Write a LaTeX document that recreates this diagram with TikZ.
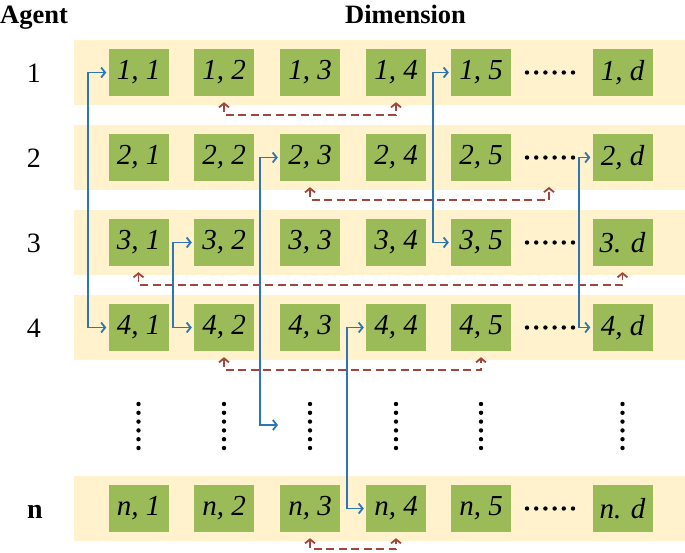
\documentclass[tikz,border=0pt]{standalone}
\usepackage{fontspec}
\setmainfont{Liberation Serif}
\usetikzlibrary{arrows.meta}
\definecolor{band}{HTML}{FFF2CC}
\definecolor{cell}{HTML}{9BBB59}
\definecolor{flow}{HTML}{2E75B6}
\definecolor{swap}{HTML}{A0463C}
\begin{document}
\begin{tikzpicture}[x=1pt,y=-1pt,
  cellbox/.style={fill=cell,minimum width=60pt,minimum height=47pt,inner sep=0pt,
    font=\fontsize{29}{32}\selectfont\itshape},
  rowlab/.style={anchor=base,inner sep=0pt,font=\fontsize{28}{30}\selectfont},
  headlab/.style={anchor=base west,inner sep=0pt,font=\fontsize{26.5}{30}\selectfont\bfseries},
  flowarr/.style={draw=flow,line width=1.8pt,{Straight Barb[length=4pt,width=10pt]}-{Straight Barb[length=4pt,width=10pt]},shorten <=2pt,shorten >=2pt},
  swaparr/.style={draw=swap,line width=1.8pt,dash pattern=on 8pt off 4.5pt,{Straight Barb[length=4pt,width=10pt]}-{Straight Barb[length=4pt,width=10pt]}},
  dotmark/.style={fill=black}]
\useasboundingbox (0,0) rectangle (685,552);
% bands
\foreach \c in {72.5,157.5,242.5,327.5,508.5}
  \fill[band] (74,\c-32.5) rectangle (685,\c+32.5);
% headers
\node[headlab] (agent) at (0,23) {Agent};
\node[headlab] (dim) at (345,23) {Dimension};
% row labels
\node[rowlab] (r1) at (34,82) {1};
\node[rowlab] (r2) at (34,167) {2};
\node[rowlab] (r3) at (34,252) {3};
\node[rowlab] (r4) at (34,337) {4};
\node[rowlab,font=\fontsize{28}{30}\selectfont\bfseries] (rn) at (35,518) {n};
% cells row 1
\node[cellbox] (b11) at (138.5,72.5) {1, 1};
\node[cellbox] (b12) at (224,72.5) {1, 2};
\node[cellbox] (b13) at (310,72.5) {1, 3};
\node[cellbox] (b14) at (396,72.5) {1, 4};
\node[cellbox] (b15) at (481,72.5) {1, 5};
\node[cellbox] (b1d) at (622.5,72.5) {1, d};
% row 2
\node[cellbox] (b21) at (138.5,157.5) {2, 1};
\node[cellbox] (b22) at (224,157.5) {2, 2};
\node[cellbox] (b23) at (310,157.5) {2, 3};
\node[cellbox] (b24) at (396,157.5) {2, 4};
\node[cellbox] (b25) at (481,157.5) {2, 5};
\node[cellbox] (b2d) at (622.5,157.5) {2, d};
% row 3
\node[cellbox] (b31) at (138.5,242.5) {3, 1};
\node[cellbox] (b32) at (224,242.5) {3, 2};
\node[cellbox] (b33) at (310,242.5) {3, 3};
\node[cellbox] (b34) at (396,242.5) {3, 4};
\node[cellbox] (b35) at (481,242.5) {3, 5};
\node[cellbox] (b3d) at (622.5,242.5) {3. d};
% row 4
\node[cellbox] (b41) at (138.5,327.5) {4, 1};
\node[cellbox] (b42) at (224,327.5) {4, 2};
\node[cellbox] (b43) at (310,327.5) {4, 3};
\node[cellbox] (b44) at (396,327.5) {4, 4};
\node[cellbox] (b45) at (481,327.5) {4, 5};
\node[cellbox] (b4d) at (622.5,327.5) {4, d};
% row n
\node[cellbox] (bn1) at (138.5,508.5) {n, 1};
\node[cellbox] (bn2) at (224,508.5) {n, 2};
\node[cellbox] (bn3) at (310,508.5) {n, 3};
\node[cellbox] (bn4) at (396,508.5) {n, 4};
\node[cellbox] (bn5) at (481,508.5) {n, 5};
\node[cellbox] (bnd) at (622.5,508.5) {n. d};
% horizontal dots
\foreach \c in {72.5,157.5,242.5,327.5,508.5}
  \foreach \i in {0,...,5}
    \fill[dotmark] (527+\i*9.2,\c) circle (2.2pt);
% vertical dots
\foreach \x in {138.5,224,310,396,481,622.5}
  \foreach \i in {0,...,5}
    \fill[dotmark] (\x,404+\i*8.8) circle (2.2pt);
% coordinates
\coordinate (t2) at (549,181);
\coordinate (e3) at (280,425);
% red dashed swaps
\draw[swaparr] ([yshift=-6pt]b12.south) -- ++(0,13) -| ([yshift=-6pt]b14.south);
\draw[swaparr] ([yshift=-6pt]b23.south) -- ++(0,13) -| ([yshift=-6pt]t2);
\draw[swaparr] ([yshift=-6pt]b31.south) -- ++(0,13) -| ([yshift=-6pt]b3d.south);
\draw[swaparr] ([yshift=-6pt]b42.south) -- ++(0,13) -| ([yshift=-6pt]b45.south);
\draw[swaparr] ([yshift=-6pt]bn3.south) -- ++(0,11) -| ([yshift=-6pt]bn4.south);
% blue flows
\draw[flowarr] (b11.west) -- ++(-20,0) |- (b41.west);
\draw[flowarr] (b15.west) -- ++(-18,0) |- (b35.west);
\draw[flowarr] (b23.west) -- ++(-20,0) |- (e3);
\draw[flowarr] (b32.west) -- ++(-21,0) |- (b42.west);
\draw[flowarr] (b2d.west) -- ++(-13,0) |- (b4d.west);
\draw[flowarr] (b44.west) -- ++(-19,0) |- (bn4.west);
\end{tikzpicture}
\end{document}
